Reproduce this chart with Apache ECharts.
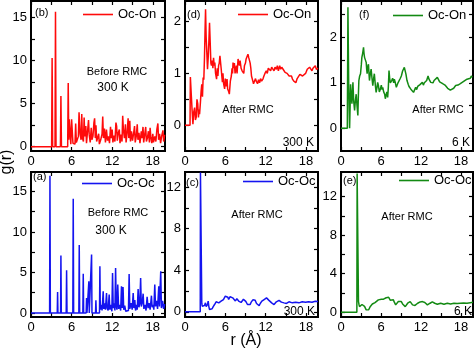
<!DOCTYPE html>
<html>
<head>
<meta charset="utf-8">
<script src="https://cdn.jsdelivr.net/npm/echarts@6.0.0/dist/echarts.min.js"></script>
<style>
  html, body { margin: 0; padding: 0; background: #fff; }
  #chart { width: 474px; height: 351px; }
</style>
</head>
<body>
<div id="chart"></div>
<script>
// x axis (r, Å) ticks and labels shared by every panel
const xTicks = [0, 3, 6, 9, 12, 15, 18]
const xLabels = [0, 6, 12, 18]

// Oc-On, before RMC, 300 K  (panel b)
const onBefore300 = [[0,0],[3.05,0],[3.12,10.3],[3.2,0],[3.55,0],[3.62,15.7],[3.7,0],[4.35,0],[4.42,5.9],[4.5,0],[5.42,0],[5.5,7.4],[5.58,0.8],[5.65,3.2],[5.8,3.2],[5.88,0.3],[6.0,3.2],[6.1,3.1],[6.2,0.4],[6.3,0.2],[6.5,0.3],[6.6,2.7],[6.7,0.5],[6.85,0.3],[7.0,1.2],[7.1,4.0],[7.25,1.5],[7.4,0.8],[7.5,3.8],[7.6,1.0],[7.75,0.6],[7.85,3.4],[7.95,1.2],[8.1,2.4],[8.2,0.4],[8.35,0.6],[8.5,3.1],[8.6,1.4],[8.75,0.5],[8.9,2.2],[9.0,0.8],[9.15,1.2],[9.3,2.8],[9.4,3.3],[9.5,1.0],[9.6,2.5],[9.7,0.6],[9.85,0.4],[10.0,1.5],[10.1,0.3],[10.3,0.8],[10.5,1.5],[10.6,3.5],[10.7,1.0],[10.85,2.1],[11.0,0.5],[11.15,2.0],[11.3,0.7],[11.45,1.2],[11.6,0.4],[11.75,2.3],[11.85,1.0],[12.0,2.0],[12.1,0.5],[12.25,1.3],[12.4,0.6],[12.55,2.8],[12.65,2.4],[12.75,0.7],[12.9,1.6],[13.05,2.0],[13.15,0.4],[13.3,1.4],[13.45,0.6],[13.55,3.6],[13.65,2.0],[13.8,1.0],[13.95,2.6],[14.05,0.5],[14.2,1.6],[14.35,3.3],[14.45,1.0],[14.6,3.0],[14.7,0.6],[14.85,1.8],[15.0,0.7],[15.15,1.5],[15.3,2.4],[15.4,0.5],[15.55,1.2],[15.7,2.6],[15.8,0.8],[15.95,1.6],[16.1,0.4],[16.3,1.8],[16.4,1.0],[16.55,2.3],[16.65,0.5],[16.8,1.4],[16.95,2.3],[17.05,0.6],[17.2,1.0],[17.35,1.8],[17.5,0.5],[17.6,2.2],[17.7,1.2],[17.85,0.4],[18.0,1.5],[18.1,0.5],[18.3,1.2],[18.45,0.6],[18.6,2.0],[18.75,2.7],[18.85,0.8],[19.0,1.5],[19.15,0.4],[19.3,1.2],[19.5,1.9],[19.6,0.6],[19.75,1.4]]

// Oc-On, after RMC, 300 K  (panel d)
const onAfter300 = [[0,0],[0.75,0],[0.8,0.93],[0.95,0.55],[1.05,0.3],[1.18,0.02],[1.3,0.25],[1.43,0.34],[1.55,0.1],[1.67,0.15],[1.78,0.5],[1.9,0.41],[2.0,0.15],[2.1,0.3],[2.17,0.21],[2.3,0.45],[2.4,0.66],[2.5,0.79],[2.6,0.55],[2.7,0.92],[2.8,0.88],[2.9,1.3],[2.98,1.8],[3.06,2.24],[3.15,1.7],[3.25,1.4],[3.35,1.08],[3.45,1.3],[3.55,1.6],[3.65,1.98],[3.75,1.6],[3.85,1.2],[3.94,1.15],[4.05,1.25],[4.15,1.1],[4.25,1.3],[4.35,1.15],[4.44,1.21],[4.55,1.0],[4.7,0.89],[4.8,1.1],[4.9,0.95],[5.0,1.15],[5.1,1.2],[5.2,1.34],[5.28,1.34],[5.38,1.1],[5.48,0.95],[5.57,0.83],[5.65,1.0],[5.75,0.8],[5.9,0.7],[6.0,0.9],[6.1,0.75],[6.26,0.89],[6.35,0.7],[6.5,0.65],[6.6,0.6],[6.66,0.6],[6.75,0.85],[6.9,0.95],[7.0,1.1],[7.08,1.0],[7.15,1.21],[7.25,1.1],[7.35,1.2],[7.45,1.0],[7.55,1.08],[7.65,1.15],[7.75,1.0],[7.9,1.28],[8.0,1.2],[8.1,1.15],[8.2,1.25],[8.35,1.1],[8.5,1.05],[8.6,1.08],[8.75,1.0],[8.85,1.15],[9.0,1.2],[9.1,1.28],[9.25,1.3],[9.37,1.37],[9.5,1.3],[9.6,1.32],[9.7,1.2],[9.8,1.1],[9.9,0.95],[10.0,0.92],[10.1,0.85],[10.2,0.8],[10.35,0.79],[10.5,0.9],[10.6,0.85],[10.7,0.86],[10.8,0.8],[10.95,0.88],[11.1,0.82],[11.25,0.9],[11.4,0.85],[11.6,0.89],[11.75,0.95],[11.9,1.0],[12.1,1.05],[12.25,1.0],[12.4,1.1],[12.6,1.08],[12.75,1.05],[12.9,1.12],[13.1,1.11],[13.25,1.05],[13.4,1.12],[13.6,1.08],[13.75,1.15],[13.9,1.05],[14.1,1.15],[14.25,1.08],[14.4,1.12],[14.6,1.08],[14.75,1.1],[14.9,1.02],[15.0,1.02],[15.2,1.0],[15.35,0.97],[15.5,0.95],[15.7,0.92],[15.85,0.95],[16.0,0.89],[16.2,0.85],[16.35,0.82],[16.5,0.82],[16.7,0.9],[16.9,0.92],[17.1,0.98],[17.3,0.99],[17.5,0.95],[17.75,0.95],[17.95,1.0],[18.2,1.08],[18.4,1.05],[18.55,1.12],[18.7,1.11],[18.9,1.05],[19.05,1.1],[19.2,1.08],[19.4,1.15],[19.55,1.08],[19.7,1.11],[19.8,1.1]]

// Oc-On, after RMC, 6 K  (panel f)
const onAfter6 = [[0,0],[0.95,0],[1.04,2.66],[1.15,1.0],[1.29,0],[1.37,0.5],[1.44,0.97],[1.55,0.7],[1.64,0.54],[1.72,0.8],[1.79,1.01],[1.9,0.6],[2.04,0.39],[2.15,0.6],[2.28,0.75],[2.4,0.5],[2.53,0.28],[2.6,0.7],[2.68,1.05],[2.8,1.15],[2.93,1.2],[3.05,1.4],[3.13,1.56],[3.25,1.65],[3.38,1.78],[3.45,1.65],[3.53,1.56],[3.65,1.6],[3.78,1.45],[3.85,1.3],[3.92,1.2],[4.0,1.35],[4.12,1.41],[4.2,1.2],[4.27,1.05],[4.4,1.2],[4.52,1.3],[4.65,1.1],[4.77,0.94],[4.9,1.1],[5.0,1.2],[5.15,0.95],[5.27,0.79],[5.4,0.9],[5.5,1.01],[5.6,0.95],[5.75,0.8],[5.9,0.86],[6.05,0.95],[6.15,0.85],[6.26,0.9],[6.4,0.8],[6.55,0.75],[6.65,0.65],[6.75,0.72],[6.88,0.8],[7.0,0.68],[7.1,0.9],[7.2,1.27],[7.3,1.1],[7.4,1.0],[7.5,0.97],[7.6,1.05],[7.75,1.1],[7.9,1.0],[8.0,1.08],[8.15,1.0],[8.3,0.9],[8.4,0.94],[8.55,1.0],[8.74,1.0],[8.9,1.1],[9.05,1.15],[9.24,1.26],[9.35,1.3],[9.5,1.34],[9.6,1.28],[9.74,1.19],[9.9,1.05],[10.08,0.97],[10.2,0.92],[10.35,0.88],[10.48,0.86],[10.6,0.82],[10.75,0.84],[10.88,0.79],[11.05,0.85],[11.2,0.9],[11.35,0.85],[11.5,0.92],[11.7,0.9],[11.85,0.96],[12.0,0.98],[12.2,1.01],[12.35,0.95],[12.5,1.0],[12.7,0.97],[12.85,1.05],[13.06,1.15],[13.2,1.08],[13.3,1.05],[13.46,1.01],[13.6,1.05],[13.8,1.0],[13.96,1.05],[14.1,1.08],[14.25,1.05],[14.45,1.12],[14.6,1.08],[14.8,1.02],[14.95,1.05],[15.1,1.0],[15.25,0.98],[15.45,0.97],[15.6,0.95],[15.8,0.92],[16.0,0.88],[16.2,0.86],[16.4,0.84],[16.55,0.82],[16.7,0.82],[16.9,0.88],[17.05,0.92],[17.2,0.94],[17.4,0.9],[17.55,0.95],[17.7,0.97],[17.9,0.98],[18.05,0.95],[18.2,1.01],[18.4,1.03],[18.55,1.0],[18.7,1.05],[18.9,1.08],[19.05,1.1],[19.2,1.12],[19.4,1.1],[19.55,1.15],[19.7,1.12],[19.8,1.15]]

// Oc-Oc, before RMC, 300 K  (panel a)
const ocBefore300 = [[0,0],[2.75,0],[2.8,16.95],[2.86,0],[3.88,0],[3.93,2.6],[3.98,0],[4.37,0],[4.42,7.1],[4.48,0],[5.2,0],[5.26,5.26],[5.32,0],[6.18,0],[6.24,14.1],[6.3,0],[7.07,0],[7.13,8.4],[7.19,0],[7.66,0],[7.72,4.85],[7.78,0],[8.15,0],[8.21,1.85],[8.27,0],[8.49,0],[8.55,3.9],[8.61,0],[8.89,0],[8.95,7.2],[9.01,0],[9.53,0],[9.59,1.56],[9.65,0],[10.12,0],[10.18,5.76],[10.24,0.4],[10.4,1.0],[10.5,0.3],[10.67,2.67],[10.75,0.5],[10.9,1.2],[11.0,0.4],[11.16,2.47],[11.25,0.6],[11.4,0.3],[11.55,2.26],[11.65,0.4],[11.8,1.0],[11.95,0.2],[12.05,4.93],[12.15,0.6],[12.3,1.2],[12.4,0.3],[12.5,5.55],[12.6,0.8],[12.7,0.4],[12.82,3.5],[12.95,0.5],[13.1,1.0],[13.25,0.3],[13.37,3.29],[13.47,0.6],[13.6,3.2],[13.7,0.4],[13.85,0.9],[14.0,0.2],[14.2,0.4],[14.4,0.3],[14.5,4.81],[14.6,0.5],[14.8,1.2],[14.95,0.4],[15.1,2.46],[15.2,0.6],[15.34,1.6],[15.45,0.3],[15.6,1.0],[15.7,0.4],[15.83,2.96],[15.95,0.7],[16.08,1.2],[16.2,4.32],[16.3,0.8],[16.45,1.3],[16.57,2.38],[16.68,0.5],[16.85,1.0],[17.0,0.3],[17.16,2.0],[17.3,0.6],[17.45,1.2],[17.6,0.4],[17.8,2.13],[17.9,0.7],[18.05,1.0],[18.15,0.4],[18.29,3.5],[18.4,0.8],[18.55,1.5],[18.7,0.5],[18.88,3.29],[18.98,0.8],[19.17,5.14],[19.27,0.6],[19.45,1.5],[19.6,0.5],[19.75,1.1]]

// Oc-Oc, after RMC, 300 K  (panel c)
const ocAfter300 = [[0,0],[2.27,0],[2.3,13.4],[2.5,0.8],[2.56,0.54],[2.66,0.45],[2.76,0.38],[2.9,0.6],[3.05,0.86],[3.15,0.5],[3.25,0.4],[3.35,0.7],[3.45,1.02],[3.55,0.5],[3.65,0.22],[3.8,0.3],[3.9,0.35],[4.04,0.29],[4.2,0.5],[4.3,0.6],[4.4,0.7],[4.5,0.85],[4.63,0.96],[4.8,0.9],[4.9,0.8],[5.03,0.86],[5.15,0.9],[5.25,0.95],[5.37,1.02],[5.5,0.95],[5.6,1.1],[5.72,1.18],[5.85,1.3],[6.0,1.5],[6.1,1.4],[6.26,1.66],[6.38,1.4],[6.5,1.18],[6.6,1.3],[6.72,1.45],[6.85,1.57],[6.95,1.5],[7.1,1.34],[7.25,1.4],[7.38,1.2],[7.5,1.05],[7.6,1.15],[7.72,1.25],[7.84,1.34],[7.95,1.2],[8.05,1.0],[8.2,0.86],[8.35,0.9],[8.45,1.0],[8.58,1.0],[8.7,1.2],[8.83,1.34],[8.95,1.2],[9.05,1.0],[9.17,0.86],[9.3,0.7],[9.45,0.6],[9.57,0.54],[9.7,0.7],[9.83,0.9],[9.96,1.02],[10.1,1.15],[10.2,1.2],[10.3,1.25],[10.45,1.1],[10.55,0.95],[10.65,0.8],[10.8,0.7],[10.92,0.65],[11.04,0.6],[11.2,0.8],[11.3,0.9],[11.44,1.02],[11.6,1.1],[11.78,1.18],[11.95,1.25],[12.13,1.34],[12.3,1.2],[12.5,1.1],[12.7,0.95],[12.9,0.86],[13.1,0.78],[13.26,0.7],[13.45,0.85],[13.6,0.96],[13.8,1.05],[14.0,1.1],[14.2,1.0],[14.35,0.93],[14.55,0.9],[14.74,0.86],[14.9,0.85],[15.1,0.8],[15.3,0.9],[15.48,0.96],[15.7,0.92],[15.98,0.86],[16.2,0.92],[16.47,0.92],[16.7,0.88],[16.96,0.86],[17.2,0.9],[17.45,0.96],[17.7,0.9],[17.95,0.92],[18.2,0.95],[18.4,0.96],[18.65,0.93],[18.9,0.92],[19.15,0.98],[19.4,1.02],[19.6,0.98],[19.8,1.0]]

// Oc-Oc, after RMC, 6 K  (panel e)
const ocAfter6 = [[0,0],[2.38,0],[2.42,14.4],[2.62,1.1],[2.7,0.8],[2.78,0.58],[2.9,0.6],[3.03,0.52],[3.15,0.8],[3.28,0.93],[3.4,0.7],[3.53,0.6],[3.65,0.4],[3.78,0.24],[3.9,0.15],[4.0,0.07],[4.15,0.25],[4.27,0.41],[4.4,0.6],[4.52,0.76],[4.7,0.85],[4.8,0.8],[4.92,0.93],[5.1,1.0],[5.27,1.1],[5.4,1.05],[5.6,1.28],[5.75,1.1],[5.9,1.2],[6.05,1.35],[6.15,1.3],[6.26,1.45],[6.38,1.35],[6.5,1.21],[6.65,1.4],[6.78,1.5],[6.9,1.62],[7.05,1.45],[7.15,1.55],[7.25,1.45],[7.38,1.25],[7.5,1.1],[7.65,1.2],[7.85,1.28],[8.0,1.05],[8.1,0.9],[8.2,0.76],[8.4,0.95],[8.6,1.1],[8.75,1.2],[8.9,1.28],[9.05,1.1],[9.24,0.86],[9.45,0.7],[9.64,0.58],[9.8,0.75],[10.0,0.93],[10.2,1.0],[10.38,1.1],[10.55,0.9],[10.73,0.76],[10.9,0.72],[11.1,0.7],[11.3,0.8],[11.5,0.93],[11.7,1.0],[11.87,1.07],[12.05,1.1],[12.22,1.1],[12.4,1.05],[12.57,1.0],[12.75,0.9],[12.96,0.76],[13.15,0.85],[13.36,0.93],[13.5,1.0],[13.7,1.07],[13.9,1.0],[14.06,0.93],[14.25,0.88],[14.45,0.83],[14.7,0.88],[14.95,0.93],[15.2,0.88],[15.45,0.83],[15.7,0.88],[15.95,0.93],[16.2,0.9],[16.44,0.86],[16.7,0.9],[16.94,0.93],[17.2,0.92],[17.43,0.9],[17.7,0.92],[17.9,0.93],[18.15,0.94],[18.4,0.96],[18.65,0.93],[18.9,0.93],[19.15,0.96],[19.4,0.99],[19.6,1.0],[19.8,1.02]]

// y axis labels / ticks per panel
const yLabelsBig = [0, 5, 10, 15]
const yTicksBig = [0, 2.5, 5, 7.5, 10, 12.5, 15]
const yLabelsSmall = [0, 1, 2]
const yTicksSmall = [0, 0.5, 1, 1.5, 2, 2.5]
const yLabelsMid = [0, 4, 8, 12]
const yTicksMid = [0, 2, 4, 6, 8, 10, 12]

const RED = '#ff0a0a'
const BLUE = '#1414f0'
const GREEN = '#138a13'
const FONT = '"Liberation Sans", Arial, sans-serif'

// panel layout (pixels) -- one entry per subplot
const panels = [
  { id: 'b', name: 'Oc-On', data: onBefore300, color: RED, left: 31, top: 1, width: 134, height: 150, yMax: 16.94, yLabels: yLabelsBig, yTicks: yTicksBig, legendLeft: 83, legendTop: 8 },
  { id: 'd', name: 'Oc-On', data: onAfter300, color: RED, left: 185, top: 1, width: 133, height: 150, yMax: 2.4, yLabels: yLabelsSmall, yTicks: yTicksSmall.slice(0, 5), legendLeft: 238, legendTop: 8 },
  { id: 'f', name: 'Oc-On', data: onAfter6, color: GREEN, left: 341, top: 1, width: 132, height: 150, yMax: 2.8, yLabels: yLabelsSmall, yTicks: yTicksSmall, legendLeft: 393, legendTop: 9 },
  { id: 'a', name: 'Oc-Oc', data: ocBefore300, color: BLUE, left: 31, top: 172, width: 134, height: 145, yMax: 17.4, yLabels: yLabelsBig, yTicks: yTicksBig, legendLeft: 82, legendTop: 177 },
  { id: 'c', name: 'Oc-Oc', data: ocAfter300, color: BLUE, left: 185, top: 172, width: 133, height: 145, yMax: 13.44, yLabels: yLabelsMid, yTicks: yTicksMid, legendLeft: 243, legendTop: 175 },
  { id: 'e', name: 'Oc-Oc', data: ocAfter6, color: GREEN, left: 341, top: 172, width: 132, height: 145, yMax: 14.56, yLabels: yLabelsMid, yTicks: yTicksMid, legendLeft: 399, legendTop: 174 }
]

const grids = []
const xAxes = []
const yAxes = []
const series = []
const legends = []

panels.forEach((p, i) => {
  grids.push({
    left: p.left, top: p.top, width: p.width, height: p.height,
    show: true, borderColor: '#000', borderWidth: 2, backgroundColor: 'transparent'
  })
  const tickStyle = { inside: true, length: 4, lineStyle: { color: '#000', width: 1.2 } }
  const noLine = { show: false, onZero: false }
  const xBase = { type: 'value', gridIndex: i, min: 0, max: 19.8, splitLine: { show: false }, axisLine: noLine }
  xAxes.push({ ...xBase, position: 'bottom',
    axisTick: { ...tickStyle, customValues: xTicks },
    axisLabel: { customValues: xLabels, fontSize: 13, color: '#000', margin: 4, fontFamily: FONT } })
  xAxes.push({ ...xBase, position: 'top',
    axisTick: { ...tickStyle, customValues: xTicks }, axisLabel: { show: false } })
  const yBase = { type: 'value', gridIndex: i, min: -0.5, max: p.yMax, splitLine: { show: false }, axisLine: noLine }
  yAxes.push({ ...yBase, position: 'left',
    axisTick: { ...tickStyle, customValues: p.yTicks },
    axisLabel: { customValues: p.yLabels, fontSize: 13, color: '#000', margin: 4, fontFamily: FONT } })
  yAxes.push({ ...yBase, position: 'right',
    axisTick: { ...tickStyle, customValues: p.yTicks }, axisLabel: { show: false } })

  const sName = p.name + ' ' + p.id
  series.push({
    name: sName, type: 'line', xAxisIndex: 2 * i, yAxisIndex: 2 * i,
    data: p.data, symbol: 'none', color: p.color,
    lineStyle: { width: 1.5, color: p.color }
  })
  legends.push({
    data: [sName], left: p.legendLeft, top: p.legendTop, padding: 0,
    icon: 'rect', itemWidth: 30, itemHeight: 1.6, selectedMode: false,
    formatter: name => name.split(' ')[0],
    textStyle: { fontSize: 13, color: '#000', fontFamily: FONT }
  })
})

// panel letters and annotations
const notes = [
  ['(b)', 35, 13, 11, 'left'], ['Before RMC', 117, 72, 11, 'center'], ['300 K', 113, 88, 12, 'center'],
  ['(d)', 187, 15, 11, 'left'], ['After RMC', 248, 110, 11, 'center'], ['300 K', 314, 143, 12, 'right'],
  ['(f)', 359, 15, 11, 'left'], ['After RMC', 438, 110, 11, 'center'], ['6 K', 470, 143, 12, 'right'],
  ['(a)', 33, 177, 11, 'left'], ['Before RMC', 118, 213, 11, 'center'], ['300 K', 111, 231, 12, 'center'],
  ['(c)', 186, 183, 11, 'left'], ['After RMC', 257, 215, 11, 'center'], ['300 K', 315, 312, 12, 'right'],
  ['(e)', 343, 181, 11, 'left'], ['After RMC', 407, 217, 11, 'center'], ['6 K', 472, 312, 12, 'right']
]
const graphic = notes.map(n => ({
  type: 'text', z: 10,
  style: { text: n[0], x: n[1], y: n[2], fontSize: n[3], fontFamily: FONT, fill: '#000', textAlign: n[4], textVerticalAlign: 'middle' }
}))
graphic.push({
  type: 'text', x: 7, y: 162, rotation: Math.PI / 2,
  style: { text: 'g(r)', fontSize: 16, fontFamily: FONT, fill: '#000', textAlign: 'center', textVerticalAlign: 'middle' }
})
graphic.push({
  type: 'text',
  style: { text: 'r (Å)', x: 246, y: 341, fontSize: 16, fontFamily: FONT, fill: '#000', textAlign: 'center', textVerticalAlign: 'middle' }
})

const chart = echarts.init(document.getElementById('chart'))
chart.setOption({
  animation: false,
  backgroundColor: '#fff',
  grid: grids,
  xAxis: xAxes,
  yAxis: yAxes,
  legend: legends,
  series: series,
  graphic: graphic
})
</script>
</body>
</html>
